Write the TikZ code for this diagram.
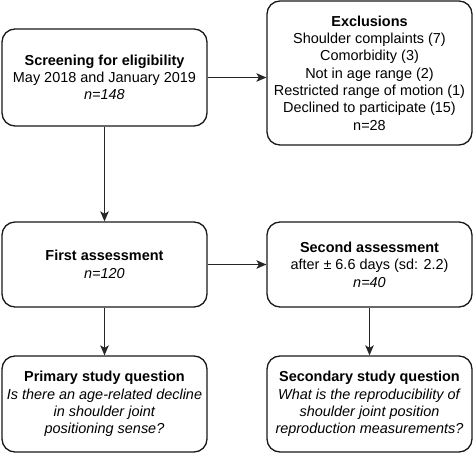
\documentclass[tikz,border=0pt]{standalone}
\usepackage{fontspec}
\setmainfont{Liberation Sans}
\usetikzlibrary{arrows.meta,calc}
\begin{document}
\begin{tikzpicture}[x=1bp,y=-1bp,
  box/.style={draw=black!90, line width=1.3bp, rounded corners=13bp, fill=white,
    minimum width=205bp, inner sep=0pt, align=center,
    font=\fontsize{14.5}{17.4}\selectfont},
  arr/.style={draw=black!85, line width=1.2bp, -{Stealth[length=10bp,width=8.5bp,inset=2.5bp]}}]
\useasboundingbox (0,0) rectangle (474,453);
\fill[white] (0,0) rectangle (474,453);
\node[box, minimum height=97bp] (scr) at (104.5,77.5)
  {\textbf{Screening for eligibility}\\May 2018 and January 2019\\\textit{n=148}};
\node[box, minimum height=144bp] (exc) at (369.5,73)
  {\textbf{Exclusions}\\Shoulder complaints (7)\\Comorbidity (3)\\Not in age range (2)\\Restricted range of motion (1)\\Declined to participate (15)\\n=28};
\node[box, minimum height=85bp] (first) at (104.5,264.5)
  {\textbf{First assessment}\\\textit{n=120}};
\node[box, minimum height=85bp] (second) at (369.5,264.5)
  {\textbf{Second assessment}\\after ± 6.6 days (sd: 2.2)\\\textit{n=40}};
\node[box, minimum height=96bp] (prim) at (104.5,404)
  {\textbf{Primary study question}\\\textit{Is there an age-related decline}\\\textit{in shoulder joint}\\\textit{positioning sense?}};
\node[box, minimum height=96bp] (secq) at (369.5,404)
  {\textbf{Secondary study question}\\\textit{What is the reproducibility of}\\\textit{shoulder joint position}\\\textit{reproduction measurements?}};
\draw[arr] (scr.east) -- (scr.east -| exc.west);
\draw[arr] (scr.south) -- (first.north);
\draw[arr] (first.east) -- (second.west);
\draw[arr] (first.south) -- (prim.north);
\draw[arr] (second.south) -- (secq.north);
\end{tikzpicture}
\end{document}
